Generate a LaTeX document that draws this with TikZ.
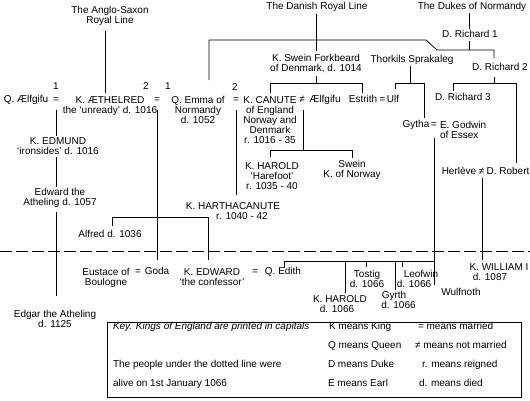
\documentclass[tikz,border=0pt]{standalone}
\usepackage{fontspec}
\setmainfont{Liberation Sans}
\begin{document}
\begin{tikzpicture}[x=1pt,y=-1pt,
  txt/.style={inner sep=0pt,outer sep=0pt,align=center,font=\fontsize{10}{10}\selectfont},
  one/.style={txt,text height=7pt,text depth=2pt},
  keyt/.style={one,anchor=west},
  link/.style={line width=0.75pt},
  divider/.style={line width=0.75pt,dash pattern=on 12pt off 4pt}]
\useasboundingbox (0,0) rectangle (530,400);

% ---------- titles
\node[txt] (asl) at (110,16) {The Anglo-Saxon\\Royal Line};
\node[one] (dan) at (317,7) {The Danish Royal Line};
\node[one] (nor) at (472,7) {The Dukes of Normandy};

% ---------- generation of Aethelred
\node[one] (alfA) at (26,100) {Q. Ælfgifu};
\node[one] (nA1) at (56,87) {1};
\node[one] (eqA) at (56,100) {=};
\node[txt] (aeth) at (110,106) {K. ÆTHELRED\\the ‘unready’ d. 1016};
\node[one] (nA2) at (146,87) {2};
\node[one] (eqB) at (157,100) {=};
\node[one] (nB1) at (168,87) {1};
\node[txt] (emma) at (198,110) {Q. Emma of\\Normandy\\d. 1052};
\node[one] (nB2) at (235,88) {2};
\node[one] (eqC) at (236,100) {=};
\node[txt] (canute) at (270,120) {K. CANUTE\\of England\\Norway and\\Denmark\\r. 1016 - 35};
\node[one] (neqA) at (302,100) {≠};
\node[one] (alfB) at (325,100) {Ælfgifu};
\node[one] (estrith) at (363,100) {Estrith};
\node[one] (eqD) at (382.5,100) {=};
\node[one] (ulf) at (393,100) {Ulf};
\node[txt] (swein) at (316,64) {K. Swein Forkbeard\\of Denmark, d. 1014};
\node[one] (thork) at (412,60) {Thorkils Sprakaleg};
\node[one] (ricA) at (470,35) {D. Richard 1};
\node[one] (ricB) at (500,68) {D. Richard 2};
\node[one] (ricC) at (463,98) {D. Richard 3};
\node[one] (gytha) at (416,125) {Gytha};
\node[one] (eqE) at (434,125) {=};
\node[txt,align=left,anchor=west] (godwin) at (440,130) {E. Godwin\\of Essex};
\node[one] (herleve) at (459,172) {Herlève};
\node[one] (neqB) at (481.5,172) {≠};
\node[one] (robert) at (508,172) {D. Robert};

% ---------- later generations above the line
\node[txt] (edmund) at (58,146) {K. EDMUND\\‘ironsides’ d. 1016};
\node[txt] (edwardA) at (60,198) {Edward the\\Atheling d. 1057};
\node[one] (alfred) at (110,235) {Alfred d. 1036};
\node[txt] (haroldA) at (272,176) {K. HAROLD\\‘Harefoot’\\r. 1035 - 40};
\node[txt] (sweinB) at (352,169.5) {Swein\\K. of Norway};
\node[txt] (hartha) at (233,211) {K. HARTHACANUTE\\\hspace*{18pt}r. 1040 - 42};

% ---------- people alive in 1066
\node[txt] (eustace) at (106,278) {Eustace of\\Boulogne};
\node[one] (eqF) at (138,272) {=};
\node[one] (goda) at (157,272) {Goda};
\node[txt] (edwardB) at (212,277) {K. EDWARD\\‘the confessor’};
\node[one] (eqG) at (255,272) {=};
\node[one] (edith) at (283,272) {Q. Edith};
\node[txt] (haroldB) at (340,304) {K. HAROLD\\d. 1066\hspace*{6pt}};
\node[txt] (tostig) at (367,279) {Tostig\\d. 1066};
\node[txt] (gyrth) at (394,300) {Gyrth\\\hspace*{9pt}d. 1066};
\node[txt] (leofwin) at (421,279) {Leofwin\\d. 1066\hspace*{14pt}};
\node[one] (wulfnoth) at (461,293) {Wulfnoth};
\node[txt] (william) at (499,272) {K. WILLIAM I\\d. 1087\hspace*{18pt}};
\node[txt] (edgar) at (55,318.5) {Edgar the Atheling\\d. 1125};

% ---------- dividing line
\coordinate (dvL) at (0,251);
\coordinate (dvR) at (530,251);
\draw[divider] (dvL) -- (dvR);

% ---------- junction / end coordinates
\coordinate (asA) at (105,31);   \coordinate (asB) at (105,93);
\coordinate (a1) at (56,110);    \coordinate (a2) at (56,136);
\coordinate (a3) at (56,157);    \coordinate (a4) at (56,187);
\coordinate (a5) at (56,212);    \coordinate (a6) at (56,296);
\coordinate (b1) at (157,110);   \coordinate (b2) at (157,260);
\coordinate (b3) at (112,226);   \coordinate (b4) at (112,217);
\coordinate (b5) at (208,217);   \coordinate (b6) at (208,260);
\coordinate (e1) at (209,80);    \coordinate (e2) at (209,40);
\coordinate (e3) at (426,40);    \coordinate (e4) at (437,50);
\coordinate (e5) at (494,50);    \coordinate (e6) at (494,58);
\coordinate (r1) at (469,13);    \coordinate (r2) at (469,29);
\coordinate (r3) at (469,41);    \coordinate (r4) at (469,50);
\coordinate (d1) at (316,14);    \coordinate (d2) at (316,51);
\coordinate (s1) at (316,76);    \coordinate (s2) at (316,83);
\coordinate (s3) at (270,93);    \coordinate (s4) at (270,83);
\coordinate (s5) at (362,83);    \coordinate (s6) at (362,93);
\coordinate (t1) at (410,66);    \coordinate (t2) at (410,83);
\coordinate (t3) at (395,89);    \coordinate (t4) at (395,83);
\coordinate (t5) at (424,83);    \coordinate (t6) at (424,118);
\coordinate (q1) at (494,77);    \coordinate (q2) at (494,83);
\coordinate (q3) at (453,91);    \coordinate (q4) at (453,83);
\coordinate (q5) at (516,83);    \coordinate (q6) at (516,163);
\coordinate (w1) at (482,178);   \coordinate (w2) at (482,260);
\coordinate (c1) at (236,110);   \coordinate (c2) at (236,195);
\coordinate (c3) at (303,110);   \coordinate (c4) at (303,150);
\coordinate (c5) at (270,157);   \coordinate (c6) at (270,150);
\coordinate (c7) at (352,150);   \coordinate (c8) at (352,158);
\coordinate (g1) at (434,138);   \coordinate (g2) at (434,261);
\coordinate (g3) at (284,268);   \coordinate (g4) at (284,261);
\coordinate (gH) at (345,261);   \coordinate (gHe) at (345,293);
\coordinate (gT) at (366,261);   \coordinate (gTe) at (366,267);
\coordinate (gG) at (395,261);   \coordinate (gGe) at (395,290);
\coordinate (gL) at (402,261);   \coordinate (gLe) at (402,267);
\coordinate (gW) at (434,285);

% ---------- connectors
\draw[link] (asA) -- (asB);
\draw[link] (a1) -- (a2);
\draw[link] (a3) -- (a4);
\draw[link] (a5) -- (a6);
\draw[link] (b1) -- (b2);
\draw[link] (b3) -- (b4) -- (b5) -- (b6);
\draw[link] (e1) -- (e2) -- (e3) -- (e4) -- (e5) -- (e6);
\draw[link] (r1) -- (r2);
\draw[link] (r3) -- (r4);
\draw[link] (d1) -- (d2);
\draw[link] (s1) -- (s2);
\draw[link] (s3) -- (s4) -- (s5) -- (s6);
\draw[link] (t1) -- (t2);
\draw[link] (t3) -- (t4) -- (t5) -- (t6);
\draw[link] (q1) -- (q2);
\draw[link] (q3) -- (q4) -- (q5) -- (q6);
\draw[link] (w1) -- (w2);
\draw[link] (c1) -- (c2);
\draw[link] (c3) -- (c4);
\draw[link] (c5) -- (c6) -- (c7) -- (c8);
\draw[link] (g1) -- (g2);
\draw[link] (g3) -- (g4) -- (g2) -- (gW);
\draw[link] (gH) -- (gHe);
\draw[link] (gT) -- (gTe);
\draw[link] (gG) -- (gGe);
\draw[link] (gL) -- (gLe);

% ---------- key
\node[draw,line width=0.75pt,inner sep=0pt,minimum width=414pt,minimum height=75pt] (keybox) at (314,359.5) {};
\node[keyt,font=\fontsize{10}{10}\selectfont\itshape] (k1) at (113,327) {Key. Kings of England are printed in capitals};
\node[keyt] (k2) at (329,327) {K means King};
\node[keyt] (k3) at (418,327) {= means married};
\node[keyt] (k4) at (328,346) {Q means Queen};
\node[keyt] (k5) at (415,346) {≠ means not married};
\node[keyt] (k6) at (113,365) {The people under the dotted line were};
\node[keyt] (k7) at (328,365) {D means Duke};
\node[keyt] (k8) at (422,365) {r. means reigned};
\node[keyt] (k9) at (113,384) {alive on 1st January 1066};
\node[keyt] (k10) at (328,384) {E means Earl};
\node[keyt] (k11) at (419,384) {d. means died};
\end{tikzpicture}
\end{document}
